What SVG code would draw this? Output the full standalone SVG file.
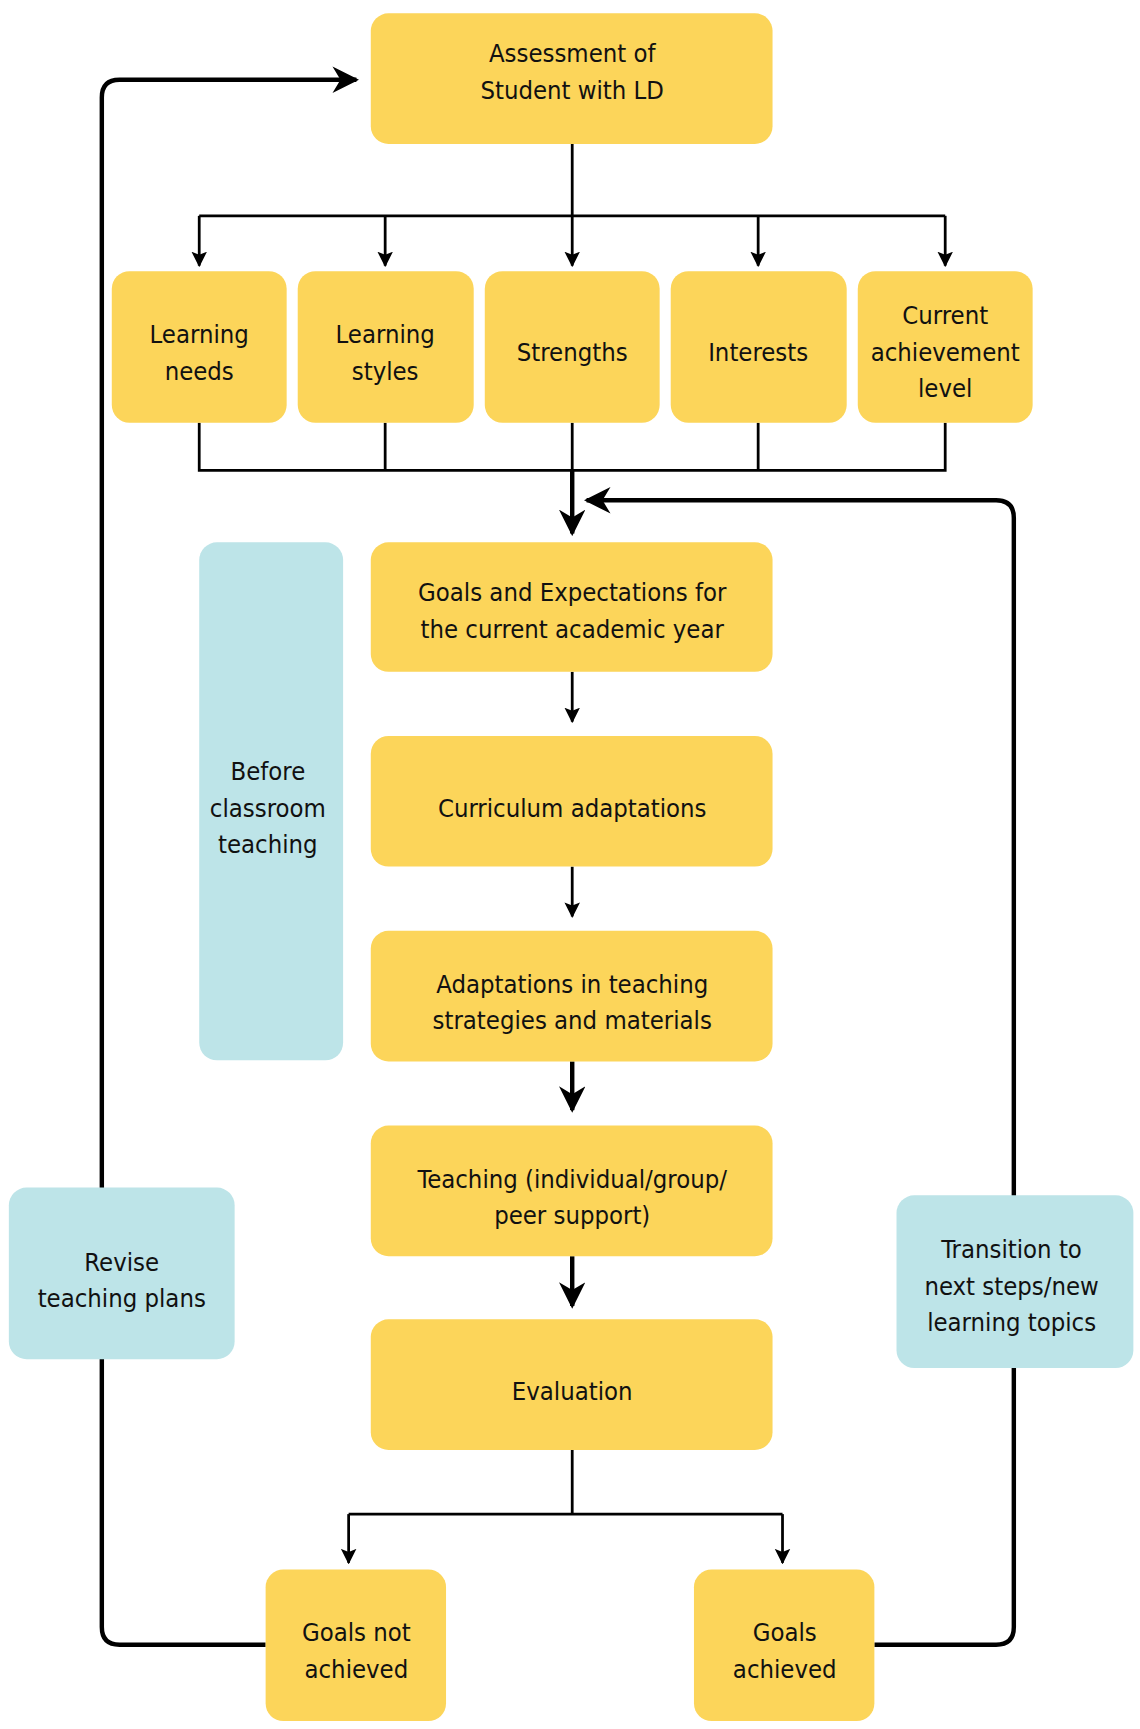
<svg xmlns="http://www.w3.org/2000/svg" width="1140" height="1729" viewBox="0 0 1140 1729">
<style>
.y{fill:#fcd55a}.b{fill:#bde4e8}
text{font-family:"DejaVu Sans Condensed","Liberation Sans Narrow","Liberation Sans",sans-serif;font-size:23px;fill:#111;text-anchor:middle}
.c{fill:none;stroke:#000;stroke-width:2.5}.t{fill:none;stroke:#000;stroke-width:4}
</style>
<defs>
<marker id="a" viewBox="0 0 10 10" refX="10" refY="5" markerWidth="5" markerHeight="7" markerUnits="userSpaceOnUse" orient="auto" overflow="visible"><path d="M0,0 L10,5 L0,10 L2,5z" fill="#000" transform="scale(1.2,1.4)"/></marker>
<marker id="A" viewBox="0 0 10 10" refX="9" refY="5" markerWidth="24" markerHeight="24" markerUnits="userSpaceOnUse" orient="auto"><path d="M0,0 L10,5 L0,10 L3,5z" fill="#000"/></marker>
<marker id="s" viewBox="0 0 10 10" refX="9" refY="5" markerWidth="14" markerHeight="18" markerUnits="userSpaceOnUse" orient="auto"><path d="M0,0 L10,5 L0,10 L2,5z" fill="#000"/></marker>
</defs>
<rect width="1140" height="1729" fill="#fff"/>
<g transform="scale(1.1068)">
<g id="connectors">
<path class="c" d="M517,130V195M180,195H854"/>
<path class="c" marker-end="url(#s)" d="M180,195V240"/>
<path class="c" marker-end="url(#s)" d="M348,195V240"/>
<path class="c" marker-end="url(#s)" d="M517,195V240"/>
<path class="c" marker-end="url(#s)" d="M685,195V240"/>
<path class="c" marker-end="url(#s)" d="M854,195V240"/>
<path class="c" d="M180,382V425H854V382M348,382V425M517,382V425M685,382V425"/>
<path class="t" stroke-width="5" marker-end="url(#A)" d="M517,425V482"/>
<path class="c" marker-end="url(#s)" d="M517,607V652"/>
<path class="c" marker-end="url(#s)" d="M517,783V828"/>
<path class="t" stroke-width="5" marker-end="url(#A)" d="M517,959V1003"/>
<path class="t" stroke-width="5" marker-end="url(#A)" d="M517,1135V1180"/>
<path class="c" d="M517,1310V1368M315,1368H707"/>
<path class="c" marker-end="url(#s)" d="M315,1368V1412"/>
<path class="c" marker-end="url(#s)" d="M707,1368V1412"/>
<path class="t" marker-end="url(#A)" d="M240,1486H108Q92,1486 92,1470V88Q92,72 108,72H322"/>
<path class="t" marker-end="url(#A)" d="M790,1486H900Q916,1486 916,1470V468Q916,452 900,452H530"/>
</g>
<g id="n1"><rect class="y" x="335" y="12" width="363" height="118" rx="16"/><text x="517" y="56">Assessment of</text><text x="517" y="89">Student with LD</text></g>
<g id="n2"><rect class="y" x="101" y="245" width="158" height="137" rx="16"/><text x="180" y="310">Learning</text><text x="180" y="343">needs</text></g>
<g id="n3"><rect class="y" x="269" y="245" width="159" height="137" rx="16"/><text x="348" y="310">Learning</text><text x="348" y="343">styles</text></g>
<g id="n4"><rect class="y" x="438" y="245" width="158" height="137" rx="16"/><text x="517" y="326">Strengths</text></g>
<g id="n5"><rect class="y" x="606" y="245" width="159" height="137" rx="16"/><text x="685" y="326">Interests</text></g>
<g id="n6"><rect class="y" x="775" y="245" width="158" height="137" rx="16"/><text x="854" y="293">Current</text><text x="854" y="326">achievement</text><text x="854" y="359">level</text></g>
<g id="n7"><rect class="y" x="335" y="490" width="363" height="117" rx="16"/><text x="517" y="543">Goals and Expectations for</text><text x="517" y="576">the current academic year</text></g>
<g id="n8"><rect class="y" x="335" y="665" width="363" height="118" rx="16"/><text x="517" y="738">Curriculum adaptations</text></g>
<g id="n9"><rect class="y" x="335" y="841" width="363" height="118" rx="16"/><text x="517" y="897">Adaptations in teaching</text><text x="517" y="930">strategies and materials</text></g>
<g id="n10"><rect class="y" x="335" y="1017" width="363" height="118" rx="16"/><text x="517" y="1073">Teaching (individual/group/</text><text x="517" y="1106">peer support)</text></g>
<g id="n11"><rect class="y" x="335" y="1192" width="363" height="118" rx="16"/><text x="517" y="1265">Evaluation</text></g>
<g id="n12"><rect class="y" x="240" y="1418" width="163" height="137" rx="16"/><text x="322" y="1483">Goals not</text><text x="322" y="1516">achieved</text></g>
<g id="n13"><rect class="y" x="627" y="1418" width="163" height="137" rx="16"/><text x="709" y="1483">Goals</text><text x="709" y="1516">achieved</text></g>
<g id="n14"><rect class="b" x="180" y="490" width="130" height="468" rx="16"/><text x="242" y="705">Before</text><text x="242" y="738">classroom</text><text x="242" y="771">teaching</text></g>
<g id="n15"><rect class="b" x="8" y="1073" width="204" height="155" rx="16"/><text x="110" y="1148">Revise</text><text x="110" y="1181">teaching plans</text></g>
<g id="n16"><rect class="b" x="810" y="1080" width="214" height="156" rx="16"/><text x="914" y="1137">Transition to</text><text x="914" y="1170">next steps/new</text><text x="914" y="1203">learning topics</text></g>
</g>
</svg>
